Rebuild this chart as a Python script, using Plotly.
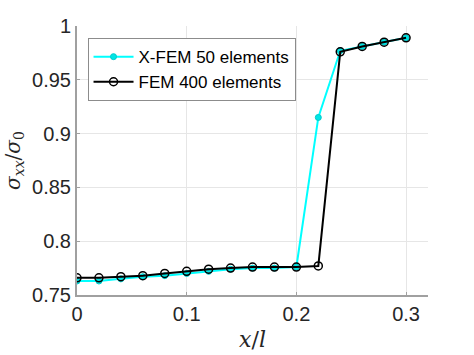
import plotly.graph_objects as go

x_vals = [0, 0.02, 0.04, 0.06, 0.08, 0.10, 0.12, 0.14, 0.16, 0.18, 0.20, 0.22, 0.24, 0.26, 0.28, 0.30]
xfem_vals = [0.763, 0.763, 0.765, 0.767, 0.768, 0.770, 0.772, 0.774, 0.775, 0.775, 0.776, 0.915, 0.977, 0.981, 0.985, 0.989]
fem_vals = [0.766, 0.766, 0.767, 0.768, 0.770, 0.772, 0.774, 0.775, 0.776, 0.776, 0.776, 0.777, 0.976, 0.981, 0.985, 0.989]
x_ticks = [0, 0.1, 0.2, 0.3]
x_tick_labels = ["0", "0.1", "0.2", "0.3"]
y_ticks = [0.75, 0.8, 0.85, 0.9, 0.95, 1.0]
y_tick_labels = ["0.75", "0.8", "0.85", "0.9", "0.95", "1"]

font_family = "Liberation Sans, Arial, sans-serif"
serif = "DejaVu Serif, serif"

fig = go.Figure()
fig.add_trace(go.Scatter(
    x=x_vals, y=xfem_vals, mode="lines+markers", name="X-FEM 50 elements",
    line=dict(color="#00FFFF", width=2),
    marker=dict(symbol="circle", size=6, color="#00E5E5", line=dict(color="#00CCCC", width=1)),
))
fig.add_trace(go.Scatter(
    x=x_vals, y=fem_vals, mode="lines+markers", name="FEM 400 elements",
    line=dict(color="black", width=2),
    marker=dict(symbol="circle-open", size=8, color="black", line=dict(width=1.5)),
))

axis_common = dict(
    showgrid=True, gridcolor="#E6E6E6", gridwidth=1,
    showline=True, linecolor="#A0A0A0", linewidth=2,
    ticks="inside", ticklen=3, tickcolor="#A0A0A0",
    tickfont=dict(family=font_family, size=20, color="#262626"),
    zeroline=False, mirror=False, automargin=False,
)

fig.update_layout(
    width=474, height=355,
    margin=dict(l=77, r=46, t=26, b=60),
    paper_bgcolor="white", plot_bgcolor="white",
    showlegend=True,
    legend=dict(
        x=0.03, y=0.955, xanchor="left", yanchor="top",
        bgcolor="white", bordercolor="#8C8C8C", borderwidth=1,
        font=dict(family=font_family, size=17, color="black"),
        itemwidth=40, tracegroupgap=0,
    ),
    xaxis=dict(
        range=[0, 0.32], tickvals=x_ticks, ticktext=x_tick_labels,
        title=dict(text="<i>x</i>/<i>l</i>", font=dict(family=serif, size=22, color="#262626"), standoff=8),
        **axis_common,
    ),
    yaxis=dict(
        range=[0.75, 1.0], tickvals=y_ticks, ticktext=y_tick_labels,
        title=dict(text="<i>σ</i><sub><i>xx</i></sub>/<i>σ</i><sub>0</sub>", font=dict(family=serif, size=20, color="#262626"), standoff=6),
        **axis_common,
    ),
)

fig.write_html("out.html", config={"displayModeBar": False},
               post_script="document.body.style.margin='0';")
